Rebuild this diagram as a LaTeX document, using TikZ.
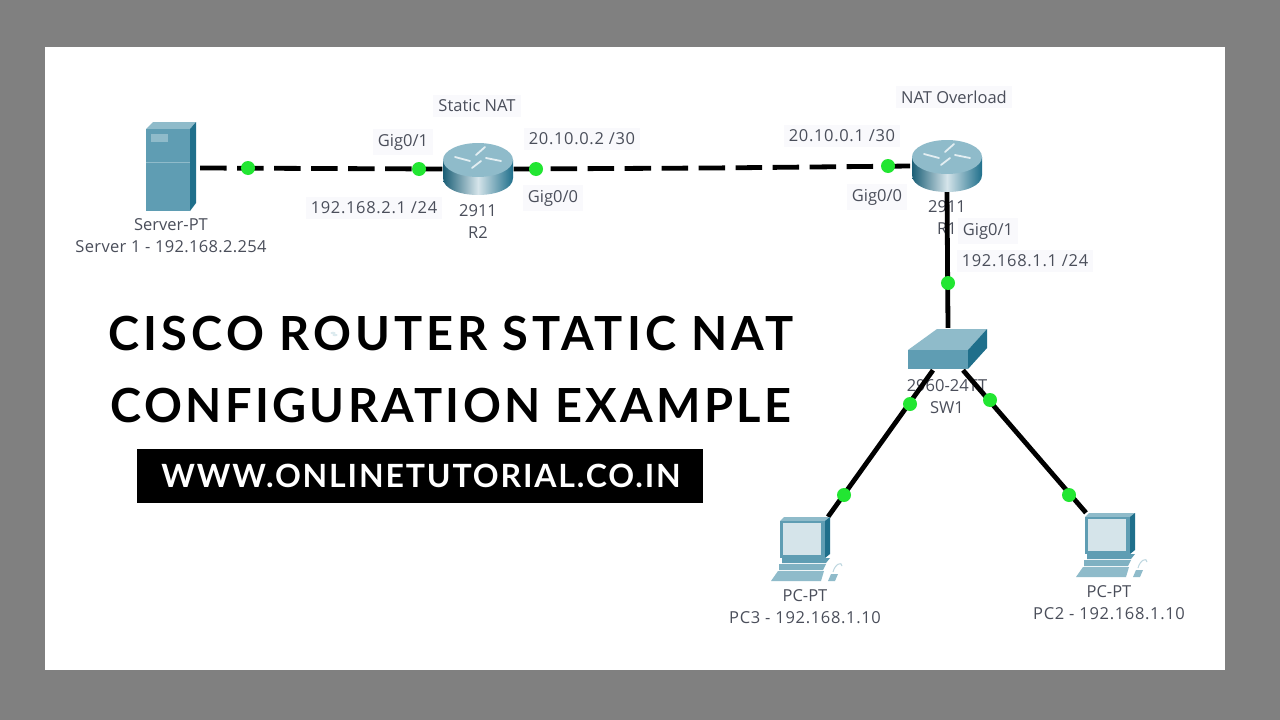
\documentclass[tikz,border=0pt]{standalone}
\usepackage{fontspec}
\setmainfont{Open Sans}
\newfontfamily\ipfont[LetterSpace=4]{Open Sans}
\newfontfamily\srvfont[LetterSpace=2]{Open Sans}
\newfontfamily\titlefonta[LetterSpace=8.5]{Lato}
\newfontfamily\titlefontb[LetterSpace=7]{Lato}
\newfontfamily\urlfont[LetterSpace=5.8]{Lato}
\usetikzlibrary{calc}
\definecolor{frame}{HTML}{808080}
\definecolor{labelink}{HTML}{4A4E5A}
\definecolor{labelbg}{HTML}{F9F9FC}
\definecolor{dotgreen}{HTML}{22E632}
\definecolor{tealmid}{HTML}{5F9DB3}
\definecolor{tealdark}{HTML}{1F6F8B}
\definecolor{teallight}{HTML}{8FBBCA}
\definecolor{screen}{HTML}{D5E4EA}
\tikzset{
  netlabel/.style={text=labelink,font=\fontsize{16.5}{22}\selectfont,align=center,inner sep=3pt},
  iflabel/.style={netlabel,fill=labelbg,inner sep=5pt},
  cable/.style={line width=4.8pt,black},
  dashcable/.style={cable,dash pattern=on 26.5pt off 10.5pt},
  linkdot/.style={circle,fill=dotgreen,inner sep=0pt,minimum size=14pt},
  titletexta/.style={font=\titlefonta\bfseries\fontsize{47}{47}\selectfont,text=black,inner sep=0pt},
  titletextb/.style={font=\titlefontb\bfseries\fontsize{47}{47}\selectfont,text=black,inner sep=0pt},
  urltext/.style={font=\urlfont\bfseries\fontsize{32}{32}\selectfont,text=white,inner sep=0pt},
  routericon/.pic={
    \shade[left color=tealdark!85!black,right color=tealdark,middle color=screen]
      (-35,-9) -- (-35,9) .. controls (-35,20) and (-18,26) .. (0,26)
      .. controls (18,26) and (35,20) .. (35,9) -- (35,-9) -- cycle;
    \fill[teallight] (0,-9) ellipse[x radius=35,y radius=17];
    \draw[white!75!teallight,line width=1.8pt,line cap=round]
      (-23,-12) -- (-8,-8) (23,-8) -- (8,-11) (7,-22) -- (-2,-14) (-6,-1) -- (3,-8);
  },
  pcicon/.pic={
    \fill[teallight] (-26,-29) -- (-22,-33) -- (24,-33) -- (20,-29) -- cycle;
    \fill[tealdark] (19,-29) -- (24,-33) -- (24,4) -- (19,8) -- cycle;
    \fill[tealmid] (-26,-29) rectangle (19,8);
    \fill[screen] (-23,-27) rectangle (15,5);
    \fill[tealmid] (-24,8) -- (24,8) -- (20,13) -- (-24,13) -- cycle;
    \fill[tealmid!80] (-27,14) -- (20,14) -- (17,20) -- (-27,20) -- cycle;
    \fill[teallight] (-28,21) -- (18,21) -- (15,31) -- (-35,31) -- cycle;
    \fill[teallight] (25,24) -- (32,24) -- (29,31) -- (22,31) -- cycle;
    \draw[teallight!60,line width=1pt] (27,22) .. controls (29,14) and (36,11) .. (36,16);
  },
}
\begin{document}
\begin{tikzpicture}[x=1pt,y=-1pt]
\useasboundingbox (0,0) rectangle (1280,720);
\fill[frame] (0,0) rectangle (1280,720);
\fill[white] (45,47) rectangle (1225,670);

% device anchors
\node[inner sep=0pt,minimum width=50pt,minimum height=90pt] (server) at (171,167) {};
\node[inner sep=0pt,minimum width=71pt,minimum height=52pt] (R2) at (478,169) {};
\node[inner sep=0pt,minimum width=71pt,minimum height=52pt] (R1) at (947,166) {};
\node[inner sep=0pt,minimum width=80pt,minimum height=42pt] (SW1) at (948,349) {};
\node[inner sep=0pt,minimum width=72pt,minimum height=66pt] (PC3) at (806,550) {};
\node[inner sep=0pt,minimum width=72pt,minimum height=66pt] (PC2) at (1111,546) {};
\coordinate (bend) at (712,168);

% labels under the cables
\node[iflabel] (lnat2) at (477,106) {Static NAT};
\node[iflabel] (lnat1) at (954,97) {NAT Overload};
\node[iflabel] (lg01) at (403,142) {Gig0/1};
\node[iflabel] (lip2) at (374,208) {\ipfont 192.168.2.1 /24};
\node[iflabel] (lip20) at (582,139) {\ipfont 20.10.0.2 /30};
\node[iflabel] (lg00a) at (553,198) {Gig0/0};
\node[iflabel] (lip10) at (842,136) {\ipfont 20.10.0.1 /30};
\node[iflabel] (lg00b) at (877,197) {Gig0/0};
\node[iflabel] (lg01b) at (988,231) {Gig0/1};
\node[iflabel] (lip1) at (1025,261) {\ipfont 192.168.1.1 /24};
\node[netlabel] (l2911a) at (478,222) {2911\\R2};
\node[netlabel] (l2911b) at (947,218) {2911\\R1};
\node[netlabel] (lsrv) at (171,236) {Server-PT\\{\srvfont Server 1 - 192.168.2.254}};
\node[netlabel] (lsw) at (947,397) {2960-24TT\\SW1};
\node[netlabel] (lpc3) at (805,607) {PC-PT\\{\ipfont PC3 - 192.168.1.10}};
\node[netlabel] (lpc2) at (1109,603) {PC-PT\\{\ipfont PC2 - 192.168.1.10}};

% cables
\draw[dashcable] ($(server.east)+(4,1)$) -- (R2.west);
\draw[dashcable] (R2.east) -- (bend) -- (R1.west);
\draw[cable] (R1.south) -- (SW1.north);
\draw[cable] ($(SW1.south)+(-15,0)$) -- ($(PC3.north)+(22,0)$);
\draw[cable] ($(SW1.south)+(15,0)$) -- ($(PC2.north)+(-25,0)$);

% link dots
\node[linkdot] (d1) at (248,168) {};
\node[linkdot] (d2) at (419,169) {};
\node[linkdot] (d3) at (536,169) {};
\node[linkdot] (d4) at (888,166) {};
\node[linkdot] (d5) at (948,283) {};
\node[linkdot] (d6) at (910,404) {};
\node[linkdot] (d7) at (990,400) {};
\node[linkdot] (d8) at (844,495) {};
\node[linkdot] (d9) at (1069,495) {};

% server
\fill[teallight] (146,129) -- (153,122) -- (196,122) -- (190,129) -- cycle;
\fill[tealdark] (190,129) -- (196,122) -- (196,203) -- (190,211) -- cycle;
\fill[tealmid] (146,129) rectangle (190,211);
\fill[teallight] (151,134) rectangle (168,142);
\draw[teallight,line width=.5pt] (146,162) -- (190,162);

% routers
\pic at (R2) {routericon};
\pic at (R1) {routericon};

% switch
\fill[teallight] (908,350) -- (937,329) -- (987,329) -- (968,350) -- cycle;
\fill[tealmid] (908,350) rectangle (968,369);
\fill[tealdark] (968,350) -- (987,329) -- (987,348) -- (968,369) -- cycle;
\foreach \px/\py in {937,335,972,333,928,343,963,341}
  \fill[white!70!teallight] (\px,\py) ellipse[x radius=2.5,y radius=1.2];

% PCs
\pic at (PC3) {pcicon};
\pic at (PC2) {pcicon};

% title
\node[titletexta] (t1) at (451,333.5) {CISCO ROUTER STATIC NAT};
\node[titletextb] (t2) at (451,405.5) {CONFIGURATION EXAMPLE};
\node[fill=black,minimum width=566pt,minimum height=54pt,inner sep=0pt] (urlbar) at (420,476) {};
\node[urltext] (url) at (421,476) {WWW.ONLINETUTORIAL.CO.IN};
\end{tikzpicture}
\end{document}
